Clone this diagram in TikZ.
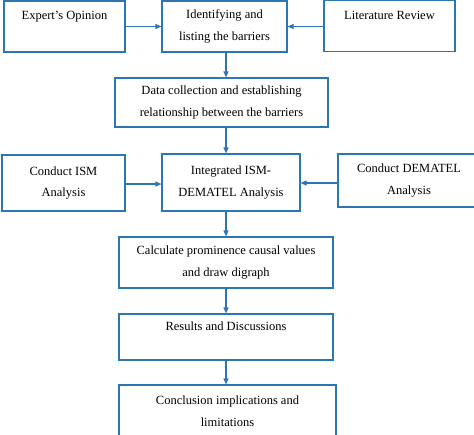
\documentclass[tikz,border=0pt]{standalone}
\usepackage{fontspec}
\setmainfont{Liberation Serif}
\usepackage{tikz}
\usetikzlibrary{positioning, arrows.meta, calc}
\definecolor{FlujoAzul}{RGB}{46,117,182}

\begin{document}
\begin{tikzpicture}[x=1pt, y=-1pt, font=\fontsize{12.5}{21.5}\selectfont, >={Triangle[length=6pt, width=5pt]},
  caja/.style={rectangle, draw=FlujoAzul, line width=1.1pt, fill=white, inner sep=0pt, align=center},
  flecha/.style={->, draw=FlujoAzul, line width=1.1pt}]
  \useasboundingbox (0,0) rectangle (474,434);
  \clip (0,0) rectangle (474,434);
  % fila superior
  \node[caja, minimum width=121pt, minimum height=51pt] (expert) at (64.5,26.5) {Expert’s Opinion\\~};
  \node[caja, minimum width=125pt, minimum height=51pt] (ident) at (224.5,26.5) {Identifying and\\listing the barriers};
  \node[caja, minimum width=131pt, minimum height=51pt] (lit) at (389.5,26) {Literature Review\\~};
  \node[caja, minimum width=213pt, minimum height=49pt] (data) at (221.5,102.5) {Data collection and establishing\\relationship between the barriers};
  % fila de analisis
  \node[caja, minimum width=123pt, minimum height=56pt] (ism) at (63.5,183) {Conduct ISM\\Analysis};
  \node[caja, minimum width=138pt, minimum height=57pt] (integ) at (231,182.5) {Integrated ISM-\\DEMATEL Analysis};
  \node[caja, minimum width=142pt, minimum height=53pt] (dematel) at (409,180.5) {Conduct DEMATEL\\Analysis};
  % resultados
  \node[caja, minimum width=214pt, minimum height=51pt] (calc) at (226,262.5) {Calculate prominence causal values\\and draw digraph};
  \node[caja, minimum width=214pt, minimum height=46pt] (result) at (226,337) {Results and Discussions\\~};
  \node[caja, minimum width=217pt, minimum height=52pt] (concl) at (227.5,411) {Conclusion implications and\\limitations};
  % conectores
  \coordinate (eje) at (226,0);
  \draw[flecha] (expert.east) -- (expert.east -| ident.west);
  \draw[flecha] (lit.west |- expert.east) -- (ident.east |- expert.east);
  \draw[flecha] (eje |- ident.south) -- (eje |- data.north);
  \draw[flecha] (eje |- data.south) -- (eje |- integ.north);
  \draw[flecha] ([yshift=-1pt]ism.east) -- ([yshift=-1pt]ism.east -| integ.west);
  \draw[flecha] ([yshift=-2.5pt]dematel.west) -- ([yshift=-2.5pt]dematel.west -| integ.east);
  \draw[flecha] (eje |- integ.south) -- (eje |- calc.north);
  \draw[flecha] (eje |- calc.south) -- (eje |- result.north);
  \draw[flecha] (eje |- result.south) -- (eje |- concl.north);
\end{tikzpicture}
\end{document}
